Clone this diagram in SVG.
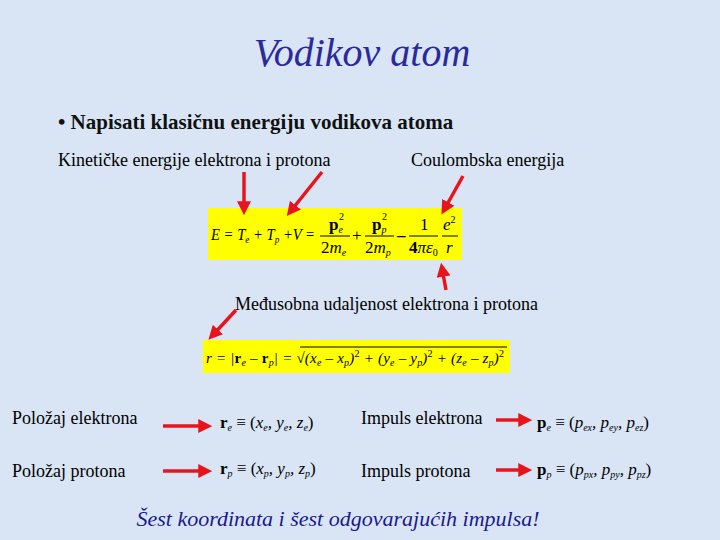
<svg xmlns="http://www.w3.org/2000/svg" width="720" height="540" viewBox="0 0 720 540" font-family="'Liberation Serif', 'DejaVu Serif', serif">
<defs>
<marker id="ah" markerWidth="4" markerHeight="4" refX="2.5" refY="2" orient="auto" markerUnits="strokeWidth"><path d="M0,0 L4,2 L0,4 z" fill="#e8141c"/></marker>
<style>
text{font-family:'Liberation Serif','DejaVu Serif',serif;fill:#000}
.t{font-size:18px}
.m{font-size:17px;font-style:italic}
.m2{font-size:15px;font-style:italic}
.b{font-weight:bold;font-style:normal}
.s{font-size:10px}
.arr{stroke:#e8141c;stroke-width:3.5;fill:none;marker-end:url(#ah)}
</style>
</defs>
<rect width="720" height="540" fill="#d9e5f5"/>
<text x="362" y="66" text-anchor="middle" style="font-size:40px;font-style:italic;fill:#2a2a9c">Vodikov atom</text>
<g id="bullet"><text x="58" y="129" style="font-size:21px;font-weight:bold;fill:#111">• Napisati klasičnu energiju vodikova atoma</text></g>
<g id="lbl-kin"><text x="58" y="166" class="t">Kinetičke energije elektrona i protona</text></g>
<g id="lbl-coul"><text x="411" y="166" class="t">Coulombska energija</text></g>
<g id="eq1">
<rect x="208" y="208" width="254" height="52" fill="#ffff00"/>
<text x="211" y="240" class="m" style="font-size:16px" textLength="104" lengthAdjust="spacingAndGlyphs">E = T<tspan class="s" dy="3">e</tspan><tspan dy="-3"> + T</tspan><tspan class="s" dy="3">p</tspan><tspan dy="-3"> +V =</tspan></text>
<text x="329" y="230" class="m"><tspan class="b">p</tspan><tspan class="s" dy="3">e</tspan></text>
<text x="339" y="220" class="m s" style="font-style:normal">2</text>
<line x1="320" y1="236" x2="350" y2="236" stroke="#000"/>
<text x="321" y="253" class="m"><tspan style="font-style:normal">2</tspan>m<tspan class="s" dy="3">e</tspan></text>
<text x="352" y="241" class="m" style="font-style:normal">+</text>
<text x="372" y="230" class="m"><tspan class="b">p</tspan><tspan class="s" dy="3">p</tspan></text>
<text x="382" y="220" class="m s" style="font-style:normal">2</text>
<line x1="365" y1="236" x2="394" y2="236" stroke="#000"/>
<text x="365" y="253" class="m"><tspan style="font-style:normal">2</tspan>m<tspan class="s" dy="3">p</tspan></text>
<text x="397" y="241" class="m" style="font-style:normal;font-weight:bold">–</text>
<text x="420" y="230" class="m" style="font-style:normal">1</text>
<line x1="409" y1="236" x2="438" y2="236" stroke="#000"/>
<text x="409" y="253" class="m"><tspan style="font-style:normal;font-weight:bold">4</tspan>πε<tspan class="s" dy="3" style="font-style:normal">0</tspan></text>
<text x="443" y="230" class="m">e<tspan class="s" dy="-7" style="font-style:normal">2</tspan></text>
<line x1="442" y1="236" x2="458" y2="236" stroke="#000"/>
<text x="446" y="253" class="m">r</text>
</g>
<g id="lbl-dist"><text x="235" y="310" class="t">Međusobna udaljenost elektrona i protona</text></g>
<g id="eq2">
<rect x="203" y="340" width="307" height="33" fill="#ffff00"/>
<text x="206" y="363" class="m2" textLength="298" lengthAdjust="spacing">r = |<tspan class="b">r</tspan><tspan class="s" dy="3">e</tspan><tspan dy="-3"> – </tspan><tspan class="b">r</tspan><tspan class="s" dy="3">p</tspan><tspan dy="-3">| = √(x</tspan><tspan class="s" dy="3">e</tspan><tspan dy="-3"> – x</tspan><tspan class="s" dy="3">p</tspan><tspan dy="-3">)</tspan><tspan class="s" dy="-6" style="font-style:normal">2</tspan><tspan dy="6"> + (y</tspan><tspan class="s" dy="3">e</tspan><tspan dy="-3"> – y</tspan><tspan class="s" dy="3">p</tspan><tspan dy="-3">)</tspan><tspan class="s" dy="-6" style="font-style:normal">2</tspan><tspan dy="6"> + (z</tspan><tspan class="s" dy="3">e</tspan><tspan dy="-3"> – z</tspan><tspan class="s" dy="3">p</tspan><tspan dy="-3">)</tspan><tspan class="s" dy="-6" style="font-style:normal">2</tspan></text>
<line x1="300" y1="347" x2="507" y2="347" stroke="#000" stroke-width="1"/>
</g>
<g id="row1">
<text x="12" y="424" class="t">Položaj elektrona</text>
<text x="220" y="428" class="m"><tspan class="b">r</tspan><tspan class="s" dy="3">e</tspan><tspan dy="-3" style="font-style:normal"> ≡ (</tspan>x<tspan class="s" dy="3">e</tspan><tspan dy="-3">, y</tspan><tspan class="s" dy="3">e</tspan><tspan dy="-3">, z</tspan><tspan class="s" dy="3">e</tspan><tspan dy="-3" style="font-style:normal">)</tspan></text>
<text x="361" y="424" class="t">Impuls elektrona</text>
<text x="537" y="428" class="m"><tspan class="b">p</tspan><tspan class="s" dy="3">e</tspan><tspan dy="-3" style="font-style:normal"> ≡ (</tspan>p<tspan class="s" dy="3">ex</tspan><tspan dy="-3">, p</tspan><tspan class="s" dy="3">ey</tspan><tspan dy="-3">, p</tspan><tspan class="s" dy="3">ez</tspan><tspan dy="-3" style="font-style:normal">)</tspan></text>
</g>
<g id="row2">
<text x="12" y="477" class="t">Položaj protona</text>
<text x="220" y="474" class="m"><tspan class="b">r</tspan><tspan class="s" dy="3">p</tspan><tspan dy="-3" style="font-style:normal"> ≡ (</tspan>x<tspan class="s" dy="3">p</tspan><tspan dy="-3">, y</tspan><tspan class="s" dy="3">p</tspan><tspan dy="-3">, z</tspan><tspan class="s" dy="3">p</tspan><tspan dy="-3" style="font-style:normal">)</tspan></text>
<text x="361" y="477" class="t">Impuls protona</text>
<text x="537" y="475" class="m"><tspan class="b">p</tspan><tspan class="s" dy="3">p</tspan><tspan dy="-3" style="font-style:normal"> ≡ (</tspan>p<tspan class="s" dy="3">px</tspan><tspan dy="-3">, p</tspan><tspan class="s" dy="3">py</tspan><tspan dy="-3">, p</tspan><tspan class="s" dy="3">pz</tspan><tspan dy="-3" style="font-style:normal">)</tspan></text>
</g>
<g id="footer"><text x="338" y="526" text-anchor="middle" style="font-size:22px;font-style:italic;fill:#1a1a8c">Šest koordinata i šest odgovarajućih impulsa!</text></g>
<g id="connectors">
<line class="arr" x1="244" y1="172" x2="244" y2="210"/>
<line class="arr" x1="322" y1="172" x2="290" y2="212"/>
<line class="arr" x1="463" y1="176" x2="444" y2="210"/>
<line class="arr" x1="446" y1="290" x2="442" y2="268"/>
<line class="arr" x1="236" y1="310" x2="212" y2="336"/>
<line class="arr" x1="163" y1="426" x2="207" y2="426"/>
<line class="arr" x1="163" y1="471" x2="207" y2="471"/>
<line class="arr" x1="496" y1="420" x2="527" y2="420"/>
<line class="arr" x1="496" y1="470" x2="527" y2="470"/>
</g>
</svg>
